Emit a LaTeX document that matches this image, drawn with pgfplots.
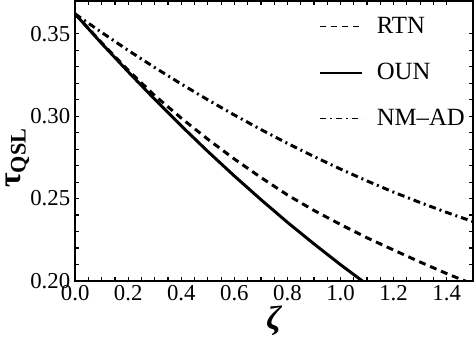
\documentclass[border=0pt]{standalone}
\usepackage{fontspec}
\setmainfont{Liberation Serif}
\usepackage{pgfplots}
\pgfplotsset{compat=1.18}
\begin{document}
\begin{tikzpicture}
\begin{axis}[
  scale only axis,
  width=201pt, height=141.5pt,
  xmin=0, xmax=1.5, ymin=0.2, ymax=0.37,
  xtick={0,0.2,...,1.4},
  ytick={0.20,0.25,0.30,0.35},
  minor x tick num=3,
  minor y tick num=4,
  tick align=inside,
  major tick length=2pt,
  minor tick length=2pt,
  xticklabel style={/pgf/number format/fixed, /pgf/number format/fixed zerofill, /pgf/number format/precision=1, yshift=1.5pt},
  yticklabel style={/pgf/number format/fixed, /pgf/number format/fixed zerofill, /pgf/number format/precision=2, xshift=1pt},
  /pgf/number format/assume math mode=true,
  ticklabel style={font=\fontsize{11.5}{13}\selectfont},
  every tick/.style={black, line width=0.6pt},
  axis line style={line width=0.8pt},
  xlabel={\textit{ζ}},
  xlabel style={font=\fontsize{17}{19}\selectfont\bfseries, at={(axis description cs:0.5,-0.198)}, anchor=south, inner sep=0pt},
  ylabel={\textbf{τ}\textsubscript{\textbf{QSL}}},
  ylabel style={font=\fontsize{16}{18}\selectfont, at={(axis description cs:-0.0995,0.44)}, anchor=south, inner sep=3pt},
  legend cell align=left,
  legend style={at={(1.0,0.957)}, anchor=north east, xshift=-2pt, draw=none, fill=none, inner sep=0pt,
    font=\fontsize{12.5}{14}\selectfont, row sep=9.5pt,
    /tikz/every odd column/.append style={column sep=5pt}},
  legend image code/.code={\draw[#1] (0pt,0pt) -- (21pt,0pt);},
]
\addplot[black, line width=1.5pt, dash pattern=on 3.5pt off 2.5pt, forget plot] coordinates {
(0,0.3620) (0.1,0.3445) (0.2,0.3278) (0.3,0.3125) (0.4,0.2988) (0.5,0.2860)
(0.6,0.2740) (0.7,0.2628) (0.8,0.2522) (0.9,0.2428) (1.0,0.2343) (1.1,0.2262)
(1.2,0.2188) (1.3,0.2115) (1.4,0.2045) (1.5,0.1980)};
\addplot[black, line width=1.5pt, forget plot] coordinates {
(0,0.3620) (0.1,0.3441) (0.2,0.3269) (0.3,0.3102) (0.4,0.2941) (0.5,0.2786)
(0.6,0.2637) (0.7,0.2494) (0.8,0.2356) (0.9,0.2225) (1.0,0.2099) (1.1,0.1979)};
\addplot[black, line width=1.5pt, dash pattern=on 3.5pt off 2pt on 1pt off 2pt, forget plot] coordinates {
(0,0.3620) (0.1,0.3508) (0.2,0.3399) (0.3,0.3295) (0.4,0.3195) (0.5,0.3099)
(0.6,0.3007) (0.7,0.2919) (0.8,0.2835) (0.9,0.2755) (1.0,0.2679) (1.1,0.2607)
(1.2,0.2539) (1.3,0.2476) (1.4,0.2416) (1.5,0.2360)};
\addlegendimage{black, line width=0.6pt, dash pattern=on 3pt off 2.5pt}
\addlegendentry{RTN}
\addlegendimage{black, line width=1.1pt}
\addlegendentry{OUN}
\addlegendimage{black, line width=0.6pt, dash pattern=on 3pt off 2pt on 1pt off 2pt}
\addlegendentry{NM\textendash AD}
\end{axis}
\end{tikzpicture}
\end{document}
